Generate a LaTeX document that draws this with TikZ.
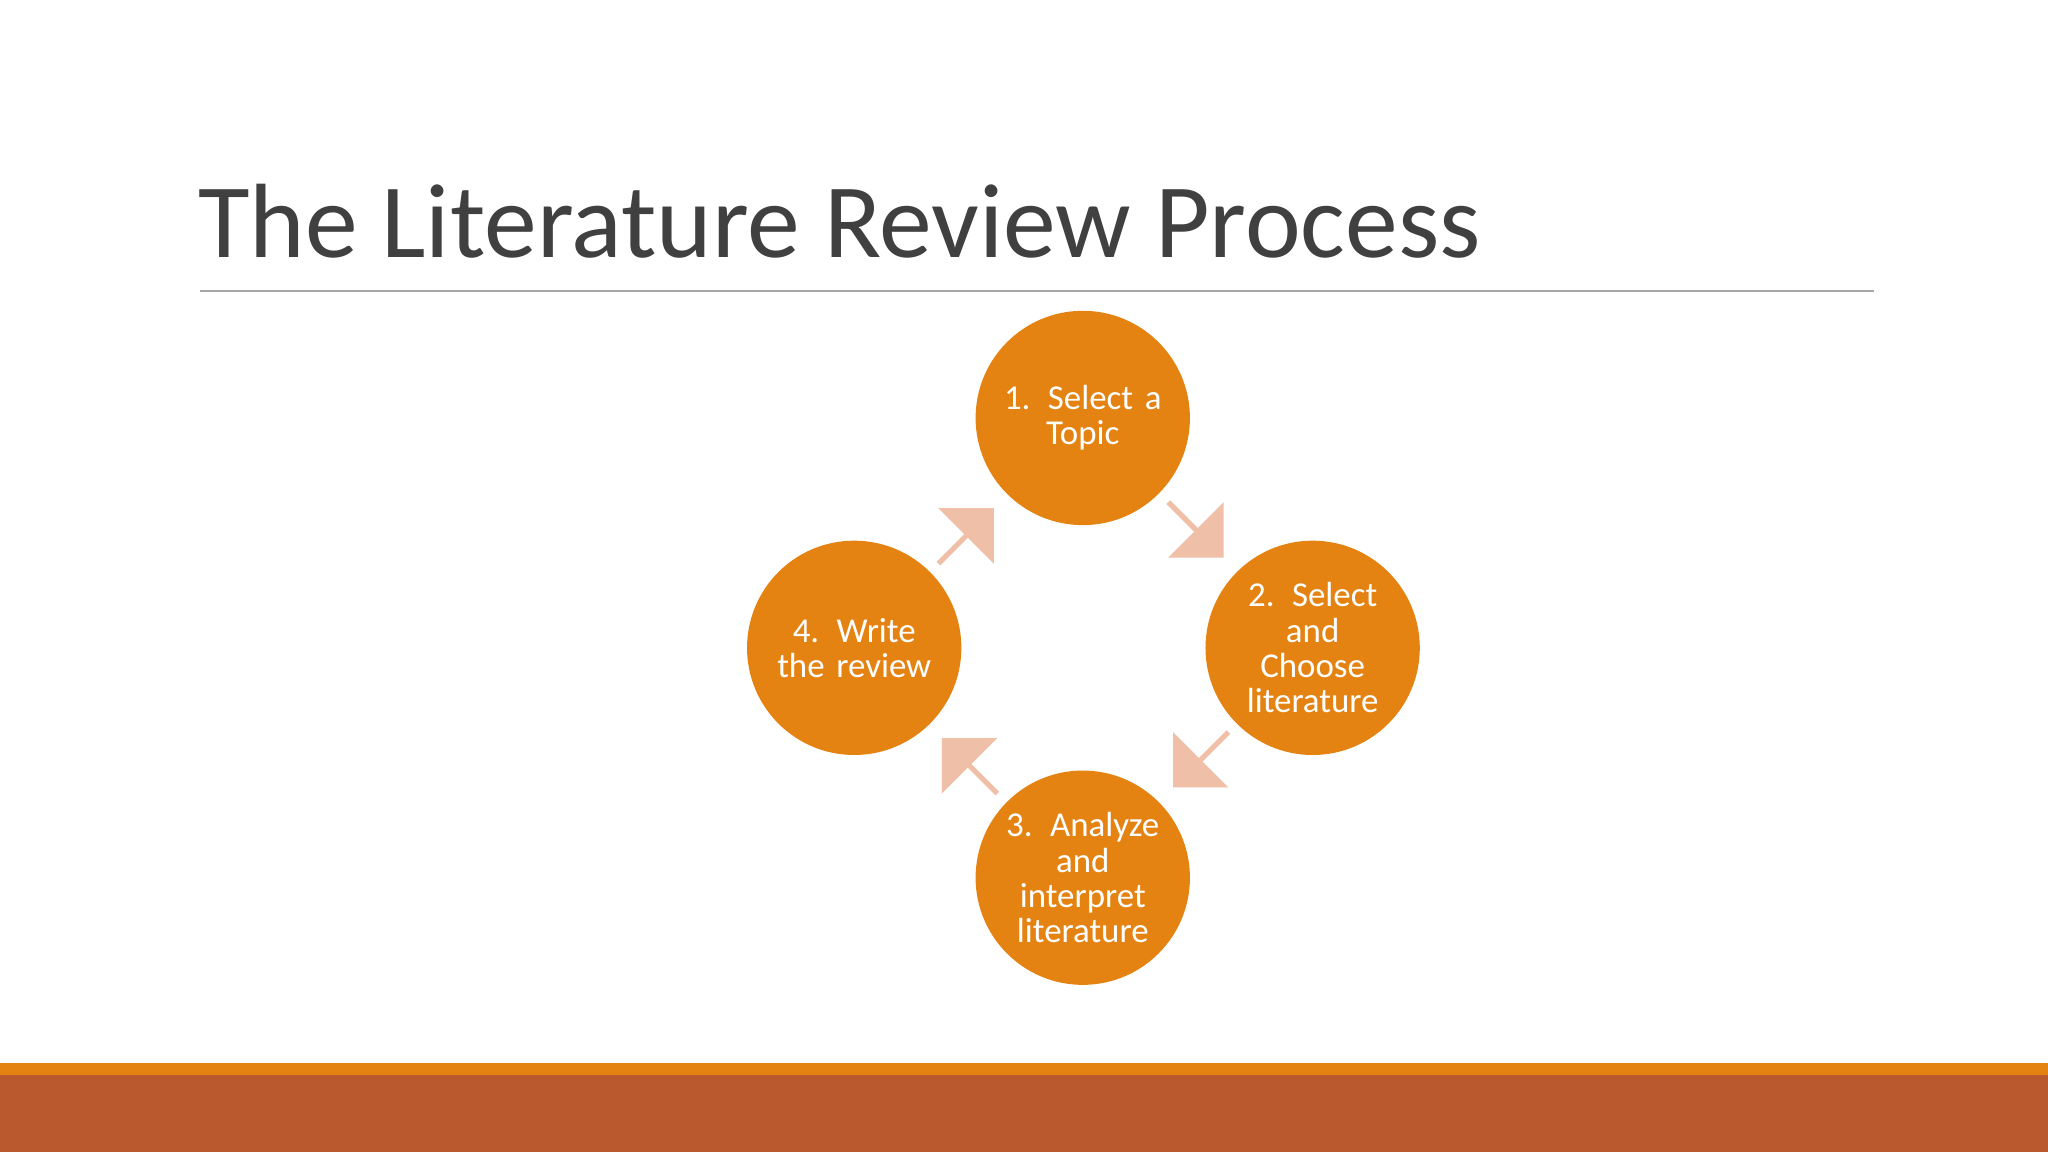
\documentclass[tikz,border=0pt]{standalone}
\usepackage{fontspec}
\setmainfont{Carlito}
\usetikzlibrary{shapes.arrows}
\definecolor{stepfill}{HTML}{E48312}
\definecolor{arrowfill}{HTML}{F0BFA8}
\definecolor{rust}{HTML}{BA592D}
\definecolor{titlegray}{HTML}{404040}
\begin{document}
\begin{tikzpicture}[x=0.01cm,y=-0.01cm]

\tikzset{stepcircle/.style={circle,fill=stepfill,minimum size=1.64cm,inner sep=0pt,
    text=white,font=\fontsize{7.6}{7.7}\selectfont,align=center,text width=1.3cm},
  flowarrow/.style={single arrow,fill=arrowfill,minimum height=0.6cm,minimum width=0.6cm,
    single arrow head extend=0.1cm,inner sep=0pt}}

\useasboundingbox (0,0) rectangle (1568,882);

%% Title
\node[anchor=base west,inner sep=0pt,text=titlegray,font=\fontsize{23}{23}\selectfont] (title) at (151,197) {The Literature Review Process};
\draw[gray!70,line width=0.4pt] (153,223) -- (1435,223);

%% Steps
\node[stepcircle] (topic) at (829,320) {1. Select a\\Topic};
\node[stepcircle] (choose) at (1005,496) {2. Select\\and\\Choose\\literature};
\node[stepcircle] (analyze) at (829,672) {3. Analyze\\and\\interpret\\literature};
\node[stepcircle] (write) at (654,496) {4. Write\\the review};

%% Arrows
\node[flowarrow,rotate=-45] (a12) at (915,405) {};
\node[flowarrow,rotate=-135] (a23) at (920,581) {};
\node[flowarrow,rotate=135] (a34) at (743,587) {};
\node[flowarrow,rotate=45] (a41) at (739,411) {};

%% Footer
\fill[stepfill] (0,814) rectangle (1568,823);
\fill[rust] (0,823) rectangle (1568,882);

\end{tikzpicture}
\end{document}
